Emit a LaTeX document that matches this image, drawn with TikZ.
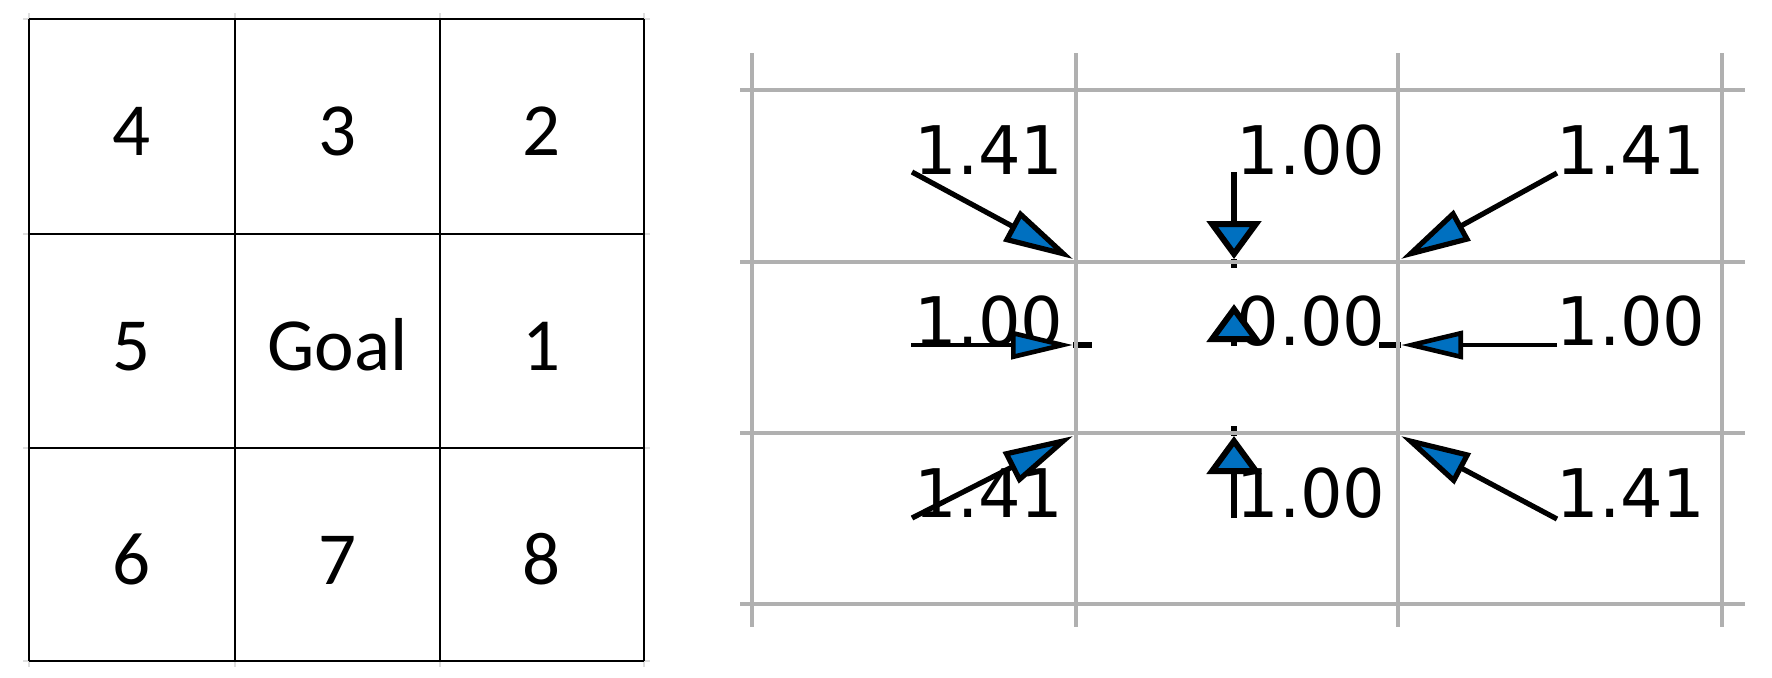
\documentclass[tikz,border=0pt]{standalone}
\usepackage{fontspec}
\setmainfont{Carlito}
\newfontfamily\dejavu{DejaVu Sans}
\usetikzlibrary{arrows.meta}
\definecolor{arrowblue}{RGB}{0,112,192}
\definecolor{gridgray}{RGB}{176,176,176}
\definecolor{stubgray}{RGB}{222,222,222}
\begin{document}
\begin{tikzpicture}[x=0.5pt,y=-0.5pt,
  cellnum/.style={anchor=base, inner sep=0pt, font=\fontsize{37.5}{45}\selectfont},
  costlbl/.style={anchor=base east, inner sep=0pt, font=\dejavu\fontsize{33.5}{40}\selectfont},
  tableline/.style={line width=1.45pt, draw=black},
  stubline/.style={line width=1pt, draw=stubgray},
  sheetline/.style={line width=2pt, draw=gridgray},
  diagarrow/.style={line width=2.6pt, line join=miter, -{Triangle[length=35pt,width=17pt,fill=arrowblue]}},
  vertarrow/.style={line width=3pt, line join=miter, -{Triangle[length=19pt,width=27pt,fill=arrowblue]}},
  horarrow/.style={line width=2.3pt, line join=miter, -{Triangle[length=31pt,width=14pt,fill=arrowblue]}},
  overshoot/.style={line width=2.6pt, draw=black},
]
\useasboundingbox[fill=white] (0,0) rectangle (1772,677);

% ---------- left table ----------
\foreach \x in {29,235,440,644} \draw[stubline] (\x,13) -- (\x,667);
\foreach \y in {19,234,448,661} \draw[stubline] (23,\y) -- (650,\y);
\foreach \x in {29,235,440,644} \draw[tableline] (\x,19) -- (\x,661);
\foreach \y in {19,234,448,661} \draw[tableline] (29,\y) -- (644,\y);

\node[cellnum] (n4) at (132,155.5) {4};
\node[cellnum] (n3) at (337.5,155.5) {3};
\node[cellnum] (n2) at (542,155.5) {2};
\node[cellnum] (n5) at (132,370) {5};
\node[cellnum] (ngoal) at (337.5,370) {Goal};
\node[cellnum] (n1) at (542,370) {1};
\node[cellnum] (n6) at (132,584) {6};
\node[cellnum] (n7) at (337.5,584) {7};
\node[cellnum] (n8) at (542,584) {8};

% ---------- right sheet ----------
% arrow end points
\coordinate (s11) at (912,172);
\coordinate (s12) at (1234,172);
\coordinate (s13) at (1557,173);
\coordinate (s21) at (911,345);
\coordinate (s23) at (1557,345);
\coordinate (s31) at (912,518);
\coordinate (s32) at (1234,518);
\coordinate (s33) at (1557,519);
\coordinate (tTL) at (1073,259);
\coordinate (tT)  at (1234,259);
\coordinate (tTR) at (1401,259);
\coordinate (tL)  at (1073,345);
\coordinate (tR)  at (1401,345);
\coordinate (tBL) at (1073,436);
\coordinate (tB)  at (1234,436);
\coordinate (tBR) at (1401,436);
\coordinate (gb)  at (1234,346);
\coordinate (gt)  at (1234,304);

% line ends running past the tips
\draw[overshoot] (tT) -- ++(0,9);
\draw[overshoot] (tB) -- ++(0,-10);
\draw[overshoot] (tL) -- ++(19,0);
\draw[overshoot] (tR) -- ++(-22,0);

% grid
\foreach \x in {752,1076,1398,1722} \draw[sheetline] (\x,53) -- (\x,627);
\foreach \y in {90,262,433,604} \draw[sheetline] (740,\y) -- (1745,\y);

% labels
\node[costlbl] (l11) at (1064,174) {1.41};
\node[costlbl] (l12) at (1386,174) {1.00};
\node[costlbl] (l13) at (1706,174) {1.41};
\node[costlbl] (l21) at (1064,345) {1.00};
\node[costlbl] (l22) at (1386,345) {0.00};
\node[costlbl] (l23) at (1706,345) {1.00};
\node[costlbl] (l31) at (1064,517) {1.41};
\node[costlbl] (l32) at (1386,517) {1.00};
\node[costlbl] (l33) at (1706,517) {1.41};

% arrows
\draw[diagarrow] (s11) -- (tTL);
\draw[vertarrow] (s12) -- (tT);
\draw[diagarrow] (s13) -- (tTR);
\draw[horarrow]  (s21) -- (tL);
\draw[vertarrow] (gb) -- (gt);
\draw[horarrow]  (s23) -- (tR);
\draw[diagarrow] (s31) -- (tBL);
\draw[vertarrow] (s32) -- (tB);
\draw[diagarrow] (s33) -- (tBR);
\end{tikzpicture}
\end{document}
